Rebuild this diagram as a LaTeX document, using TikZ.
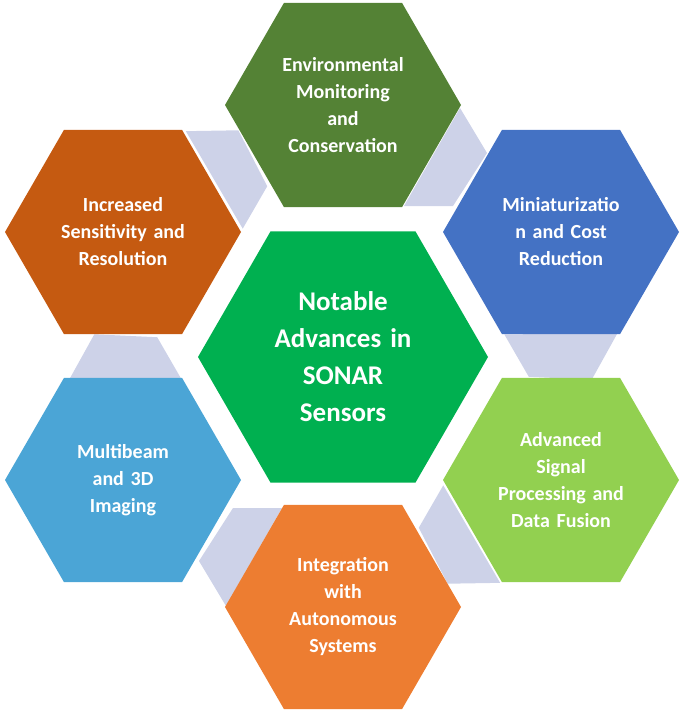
\documentclass[tikz,border=0pt]{standalone}
\usepackage{fontspec}
\setmainfont{Carlito}
\definecolor{cA}{HTML}{548235}
\definecolor{cB}{HTML}{4472C4}
\definecolor{cC}{HTML}{92D050}
\definecolor{cD}{HTML}{ED7D31}
\definecolor{cE}{HTML}{4BA5D6}
\definecolor{cF}{HTML}{C55A11}
\definecolor{cM}{HTML}{00B050}
\definecolor{lav}{HTML}{CDD2E8}
\tikzset{
  hexlab/.style={text=white,font=\bfseries\fontsize{20}{27}\selectfont,align=center,text width=150pt},
  cenlab/.style={text=white,font=\bfseries\fontsize{27}{37}\selectfont,align=center,text width=200pt}
}
\newcommand{\hexa}[4]{% x y radius color
  \fill[#4] (#1+#3,#2) -- (#1+#3/2,#2+0.866*#3) -- (#1-#3/2,#2+0.866*#3) -- (#1-#3,#2) -- (#1-#3/2,#2-0.866*#3) -- (#1+#3/2,#2-0.866*#3) -- cycle;}
\begin{document}
\begin{tikzpicture}[x=1pt,y=-1pt]
\useasboundingbox (0,0) rectangle (685,715);
\begin{scope}[shift={(343,357)},y=1pt]
\foreach \a in {0,60,...,300}{
  \fill[lav,rotate=\a] (117,249) -- (144,204) -- (110,151) -- (61,151) -- cycle;}
\end{scope}
\hexa{343}{105}{118}{cA}
\hexa{561}{232}{118}{cB}
\hexa{561}{480}{118}{cC}
\hexa{343}{607}{118}{cD}
\hexa{123}{480}{118}{cE}
\hexa{123}{232}{118}{cF}
\hexa{343}{357}{145}{cM}
\node[hexlab] (n1) at (343,105) {Environmental\\Monitoring\\and\\Conservation};
\node[hexlab] (n2) at (561,232) {Miniaturizatio\\n and Cost\\Reduction};
\node[hexlab] (n3) at (561,480) {Advanced\\Signal\\Processing and\\Data Fusion};
\node[hexlab] (n4) at (343,607) {Integration\\with\\Autonomous\\Systems};
\node[hexlab] (n5) at (123,480) {Multibeam\\and 3D\\Imaging};
\node[hexlab] (n6) at (123,232) {Increased\\Sensitivity and\\Resolution};
\node[cenlab] (c) at (343,357) {Notable\\Advances in\\SONAR\\Sensors};
\end{tikzpicture}
\end{document}
